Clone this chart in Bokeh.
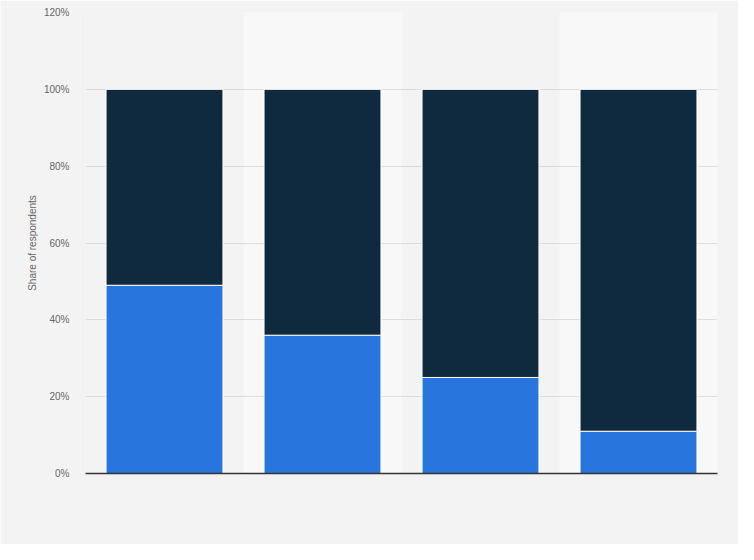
from bokeh.plotting import figure
from bokeh.models import FactorRange, Range1d, FixedTicker, PrintfTickFormatter
from bokeh.embed import file_html
from bokeh.resources import INLINE

categories = ["Group 1", "Group 2", "Group 3", "Group 4"]
share_blue = [49, 36, 25, 11]
share_dark = [51, 64, 75, 89]
y_ticks = [0, 20, 40, 60, 80, 100, 120]

BLUE = "#2876dd"
DARK = "#0f2a3f"
BG = "#f3f3f3"
BAND = "#f8f8f8"

p = figure(width=738, height=544, x_range=FactorRange(*categories, range_padding=0),
           y_range=Range1d(0, 120), output_backend="svg", toolbar_location=None,
           min_border_left=85, min_border_right=21, min_border_top=12, min_border_bottom=71)
p.background_fill_color = BG
p.border_fill_color = BG
p.outline_line_color = None

# alternating bands
band_cats = [c for i, c in enumerate(categories) if i % 2 == 1]
bands = p.vbar(x=band_cats, top=[120] * len(band_cats), bottom=0, width=1.0,
               fill_color=BAND, line_color=None)
bands.level = "image"

bottoms2 = share_blue
tops2 = [b + d for b, d in zip(share_blue, share_dark)]
p.vbar(x=categories, top=share_blue, bottom=0, width=0.74, fill_color=BLUE,
       line_color="white", line_width=1)
p.vbar(x=categories, top=tops2, bottom=bottoms2, width=0.74, fill_color=DARK,
       line_color="white", line_width=1)

p.xgrid.visible = False
p.ygrid.grid_line_color = "#c4c4c4"
p.ygrid.grid_line_dash = "1 1"
p.ygrid.grid_line_width = 1
p.ygrid.ticker = FixedTicker(ticks=y_ticks)

p.yaxis.ticker = FixedTicker(ticks=y_ticks)
p.yaxis.formatter = PrintfTickFormatter(format="%d%%")
p.yaxis.axis_line_color = None
p.yaxis.major_tick_line_color = None
p.yaxis.minor_tick_line_color = None
p.yaxis.major_tick_out = 0
p.yaxis.major_tick_in = 0
p.yaxis.major_label_standoff = 16
p.yaxis.major_label_text_font = "Liberation Sans"
p.yaxis.major_label_text_font_size = "10px"
p.yaxis.major_label_text_color = "#666666"
p.yaxis.axis_label = "Share of respondents"
p.yaxis.axis_label_text_font = "Liberation Sans"
p.yaxis.axis_label_text_font_size = "10px"
p.yaxis.axis_label_text_font_style = "normal"
p.yaxis.axis_label_text_color = "#666666"
p.yaxis.axis_label_standoff = 3

p.xaxis.axis_line_color = "#333333"
p.xaxis.axis_line_width = 1.5
p.xaxis.major_tick_line_color = None
p.xaxis.minor_tick_line_color = None
p.xaxis.major_tick_out = 0
p.xaxis.major_label_text_color = None
p.xaxis.major_label_text_font_size = "0px"

html = file_html(p, INLINE)
html = html.replace("<body>", '<body style="background:%s">' % BG, 1)
open("out.html", "w").write(html)
